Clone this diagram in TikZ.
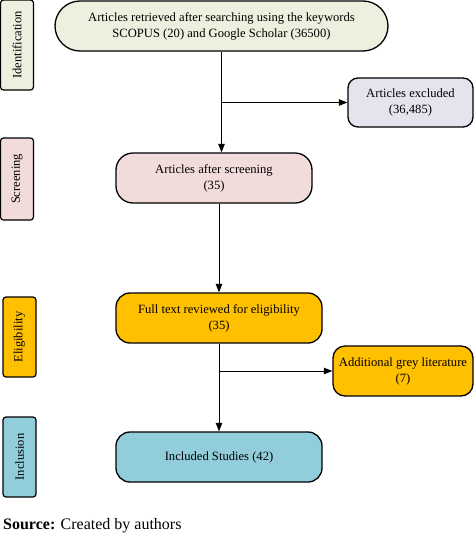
\documentclass[tikz,border=0pt]{standalone}
\usepackage{fontspec}
\setmainfont{Liberation Serif}
\usetikzlibrary{arrows.meta,calc,positioning}

\definecolor{idgreen}{HTML}{EBF1DE}
\definecolor{exlilac}{HTML}{E6E3EE}
\definecolor{scpink}{HTML}{F2DCDB}
\definecolor{elgold}{HTML}{FFC000}
\definecolor{inblue}{HTML}{92CDDC}

\begin{document}
\begin{tikzpicture}[
  x=1pt, y=-1pt,
  >={Triangle[length=8.5pt,width=6.5pt]},
  stage/.style={draw, line width=1.2pt, rounded corners=3pt, fill=#1, rotate=90,
                minimum height=33pt, inner sep=0pt, font=\fontsize{12.5}{14}\selectfont},
  flowbox/.style={draw, line width=1.3pt, rounded corners=#1, align=center,
                  minimum height=50pt, inner sep=2pt, font=\fontsize{12.6}{16}\selectfont},
  arr/.style={->, line width=1pt},
]
\useasboundingbox (0,0) rectangle (474,536);

% ===== Stage labels =====
\node[stage=idgreen, minimum width=90pt] (lid) at (17, 45) {Identification};
\node[stage=scpink, minimum width=82pt] (lsc) at (17, 179) {Screening};
\node[stage=elgold, minimum width=80pt] (lel) at (19.5, 337) {Eligibility};
\node[stage=inblue, minimum width=80pt] (lin) at (19.5, 457) {Inclusion};

% ===== Flow boxes =====
\node[flowbox=25pt, fill=idgreen, minimum width=333pt] (retr) at (221.5, 26)
  {Articles retrieved after searching using the keywords\\SCOPUS (20) and Google Scholar (36500)};
\node[flowbox=10pt, fill=exlilac, minimum width=125pt, minimum height=49pt] (excl) at (410.5, 102.5)
  {Articles excluded\\(36,485)};
\node[flowbox=17pt, fill=scpink, minimum width=196pt] (scr) at (214, 178)
  {Articles after screening\\(35)};
\node[flowbox=14pt, fill=elgold, minimum width=206pt] (full) at (219, 318)
  {Full text reviewed for eligibility\\(35)};
\node[flowbox=12pt, fill=elgold, minimum width=140pt] (grey) at (403, 371)
  {Additional grey literature\\(7)};
\node[flowbox=14pt, fill=inblue, minimum width=206pt] (incl) at (219, 457)
  {Included Studies (42)};

% ===== Connectors =====
\coordinate (b1) at (retr.south |- excl.west);
\coordinate (b2) at (full.south |- grey.west);
\draw[arr] (retr.south) -- (retr.south |- scr.north);
\draw[arr] (b1) -- (excl.west);
\draw[arr] (full.north |- scr.south) -- (full.north);
\draw[arr] (full.south) -- (incl.north);
\draw[arr] (b2) -- (grey.west);

% ===== Source =====
\node[anchor=base west, inner sep=0pt, font=\fontsize{16}{18}\selectfont] (src) at (3, 529)
  {\textbf{Source:} Created by authors};

\end{tikzpicture}
\end{document}
